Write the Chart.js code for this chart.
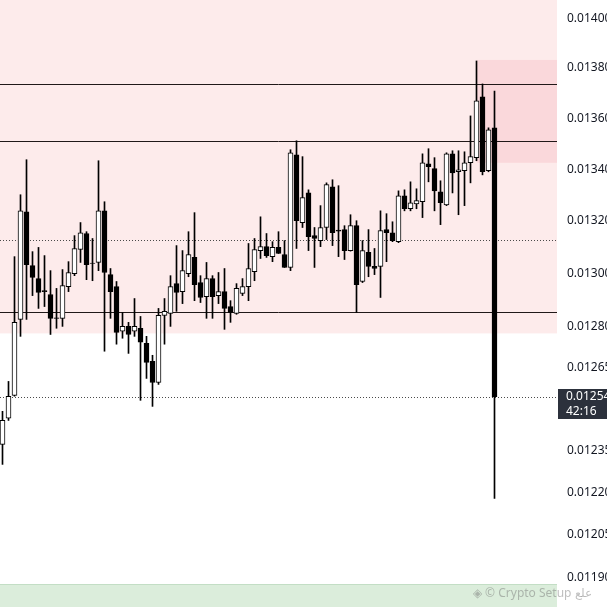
<!DOCTYPE html>
<html>
<head>
<meta charset="utf-8">
<script src="https://cdn.jsdelivr.net/npm/chart.js@4.4.1/dist/chart.umd.min.js"></script>
<style>
  html, body { margin: 0; padding: 0; background: #fff; }
  #wrap { width: 607px; height: 607px; }
</style>
</head>
<body>
<div id="wrap"><canvas id="chart"></canvas></div>
<script>
// candles, oldest first
const opens = [
  0.012371, 0.012465, 0.012548, 0.012828, 0.013235, 0.013030, 0.012981, 0.012936, 0.012921, 0.012834,
  0.012832, 0.012951, 0.013000, 0.013091, 0.013152, 0.013040, 0.013042, 0.013239, 0.012996, 0.012951,
  0.012784, 0.012802, 0.012784, 0.012795, 0.012739, 0.012673, 0.012595, 0.012843, 0.012850, 0.012962,
  0.012932, 0.013000, 0.013061, 0.012966, 0.012913, 0.012981, 0.012917, 0.012932, 0.012876, 0.012850,
  0.012925, 0.012951, 0.013007, 0.013087, 0.013102, 0.013064, 0.013099, 0.013072, 0.013023, 0.013456,
  0.013194, 0.013308, 0.013144, 0.013125, 0.013175, 0.013332, 0.013165, 0.013167, 0.013087, 0.013182,
  0.012970, 0.013080, 0.013027, 0.013027, 0.013167, 0.013155, 0.013121, 0.013297, 0.013247, 0.013266,
  0.013274, 0.013421, 0.013402, 0.013312, 0.013262, 0.013460, 0.013390, 0.013394, 0.013425, 0.013445,
  0.013685, 0.013394, 0.013562
];
const highs = [
  0.012490, 0.012599, 0.013064, 0.013301, 0.013437, 0.013083, 0.013099, 0.013068, 0.013011, 0.012944,
  0.013015, 0.013045, 0.013144, 0.013194, 0.013159, 0.013133, 0.013433, 0.013274, 0.013019, 0.012970,
  0.012854, 0.012817, 0.012906, 0.012839, 0.012765, 0.012695, 0.012869, 0.012906, 0.012992, 0.013106,
  0.013087, 0.013159, 0.013232, 0.012992, 0.013042, 0.012992, 0.013004, 0.013019, 0.012898, 0.012962,
  0.012981, 0.013114, 0.013133, 0.013216, 0.013152, 0.013121, 0.013159, 0.013125, 0.013476, 0.013511,
  0.013449, 0.013320, 0.013175, 0.013259, 0.013347, 0.013359, 0.013336, 0.013182, 0.013224, 0.013201,
  0.013125, 0.013167, 0.013095, 0.013239, 0.013228, 0.013197, 0.013316, 0.013320, 0.013351, 0.013324,
  0.013460, 0.013480, 0.013445, 0.013355, 0.013464, 0.013472, 0.013472, 0.013468, 0.013609, 0.013828,
  0.013736, 0.013562, 0.013708
];
const lows = [
  0.012299, 0.012457, 0.012545, 0.012765, 0.012828, 0.012917, 0.012869, 0.012876, 0.012772, 0.012795,
  0.012802, 0.012932, 0.012992, 0.013042, 0.012977, 0.012973, 0.013011, 0.012710, 0.012832, 0.012736,
  0.012758, 0.012702, 0.012765, 0.012530, 0.012610, 0.012508, 0.012588, 0.012736, 0.012802, 0.012858,
  0.012887, 0.012988, 0.012898, 0.012891, 0.012832, 0.012832, 0.012887, 0.012791, 0.012817, 0.012847,
  0.012917, 0.012898, 0.012973, 0.013057, 0.013061, 0.013045, 0.013076, 0.013023, 0.013011, 0.013095,
  0.013175, 0.013087, 0.013023, 0.013102, 0.013129, 0.013106, 0.013064, 0.013053, 0.013085, 0.012854,
  0.012966, 0.012988, 0.012996, 0.012910, 0.013045, 0.013121, 0.013117, 0.013239, 0.013239, 0.013247,
  0.013213, 0.013351, 0.013239, 0.013186, 0.013259, 0.013308, 0.013224, 0.013259, 0.013347, 0.013433,
  0.013378, 0.013390, 0.012178
];
const closes = [
  0.012457, 0.012545, 0.012817, 0.013239, 0.013034, 0.012985, 0.012929, 0.012932, 0.012832, 0.012832,
  0.012955, 0.013004, 0.013095, 0.013155, 0.013034, 0.013038, 0.013239, 0.013004, 0.012932, 0.012780,
  0.012802, 0.012772, 0.012802, 0.012743, 0.012669, 0.012595, 0.012843, 0.012858, 0.012951, 0.012929,
  0.013011, 0.013072, 0.012958, 0.012910, 0.012981, 0.012913, 0.012932, 0.012869, 0.012854, 0.012944,
  0.012951, 0.013019, 0.013091, 0.013102, 0.013068, 0.013099, 0.013076, 0.013023, 0.013464, 0.013201,
  0.013290, 0.013140, 0.013133, 0.013175, 0.013340, 0.013155, 0.013161, 0.013087, 0.013182, 0.012958,
  0.013087, 0.013027, 0.013019, 0.013163, 0.013155, 0.013125, 0.013297, 0.013247, 0.013270, 0.013278,
  0.013425, 0.013410, 0.013316, 0.013270, 0.013460, 0.013386, 0.013398, 0.013425, 0.013449, 0.013669,
  0.013390, 0.013554, 0.012543
];

// price axis
const tickValues = [0.0140, 0.0138, 0.0136, 0.0134, 0.0132, 0.0130, 0.0128, 0.01265, 0.0125, 0.01235, 0.0122, 0.01205, 0.0119];
const priceMin = 0.011803;
const priceMax = 0.014075;

// drawn levels and zones
const solidLevels = [0.013736, 0.013511, 0.012854];
const dottedLevels = [0.013129];
const lastPrice = 0.012543;
const countdown = '42:16';
const pinkZoneLow = 0.012776;
const innerZone = { fromIndex: 79.1, high: 0.013832, low: 0.013425 };
const greenZoneHigh = 0.011879;
const watermark = '\u25C8 \u00A9 Crypto Setup \u0639\u0644\u0639';

const idx = opens.map((_, i) => i);
const wickData = idx.map(i => ({ x: i, y: [lows[i], highs[i]] }));
const bodyData = idx.map(i => ({ x: i, y: [opens[i], closes[i]] }));
const bodyColors = idx.map(i => closes[i] >= opens[i] ? '#ffffff' : '#000000');

const overlay = {
  id: 'overlay',
  beforeDatasetsDraw(chart) {
    const { ctx, chartArea: a, scales: { x, y } } = chart;
    const w = a.right - a.left;
    ctx.save();
    // resistance zone
    const pz = y.getPixelForValue(pinkZoneLow);
    ctx.fillStyle = '#fdebeb';
    ctx.fillRect(a.left, a.top, w, pz - a.top);
    const bx = x.getPixelForValue(innerZone.fromIndex);
    const bt = y.getPixelForValue(innerZone.high);
    const bb = y.getPixelForValue(innerZone.low);
    ctx.fillStyle = '#fad8db';
    ctx.fillRect(bx, bt, a.right - bx, bb - bt);
    // green strip at bottom
    const gt = Math.round(y.getPixelForValue(greenZoneHigh));
    ctx.fillStyle = '#dbeddb';
    ctx.fillRect(a.left, gt, w, a.bottom - gt);
    ctx.fillStyle = '#c3dec5';
    ctx.fillRect(a.left, gt, w, 1);
    // horizontal levels
    ctx.lineWidth = 1;
    ctx.strokeStyle = '#201818';
    solidLevels.forEach(v => {
      const py = Math.round(y.getPixelForValue(v)) + 0.5;
      ctx.beginPath(); ctx.moveTo(a.left, py); ctx.lineTo(a.right, py); ctx.stroke();
    });
    ctx.setLineDash([1, 2]);
    ctx.strokeStyle = '#4a4a4a';
    dottedLevels.concat([lastPrice]).forEach(v => {
      const py = Math.round(y.getPixelForValue(v)) + 0.5;
      ctx.beginPath(); ctx.moveTo(a.left, py); ctx.lineTo(a.right, py); ctx.stroke();
    });
    ctx.restore();
  },
  afterDraw(chart) {
    const { ctx, chartArea: a, scales: { y } } = chart;
    ctx.save();
    const py = Math.round(y.getPixelForValue(lastPrice));
    ctx.fillStyle = '#2c313c';
    ctx.fillRect(a.right + 1, py - 8, chart.width - a.right, 30);
    ctx.fillStyle = '#ffffff';
    ctx.font = '12px "Noto Sans"';
    ctx.textBaseline = 'middle';
    ctx.textAlign = 'left';
    ctx.fillText(lastPrice.toFixed(6), a.right + 9, py);
    ctx.fillText(countdown, a.right + 9, py + 15);
    // watermark
    ctx.font = '12px "Noto Sans"';
    ctx.fillStyle = 'rgba(110,110,110,0.45)';
    ctx.fillText(watermark, 473, 594);
    ctx.restore();
  }
};

new Chart(document.getElementById('chart'), {
  type: 'bar',
  data: {
    datasets: [
      {
        data: bodyData,
        backgroundColor: bodyColors,
        borderColor: '#000000',
        borderWidth: 1,
        borderSkipped: false,
        barThickness: 5,
        grouped: false,
        order: 0
      },
      {
        data: wickData,
        backgroundColor: '#000000',
        borderWidth: 0,
        barThickness: 1,
        grouped: false,
        order: 1
      }
    ]
  },
  options: {
    responsive: true,
    maintainAspectRatio: false,
    animation: false,
    layout: { padding: 0 },
    plugins: {
      legend: { display: false },
      tooltip: { enabled: false }
    },
    scales: {
      x: {
        type: 'linear',
        display: false,
        offset: false,
        min: -2.5 / 6,
        max: -2.5 / 6 + 557 / 6
      },
      y: {
        type: 'logarithmic',
        position: 'right',
        min: priceMin,
        max: priceMax,
        afterFit(scale) {
          scale.width = 50;
          scale.paddingTop = 0;
          scale.paddingBottom = 0;
        },
        afterBuildTicks(scale) { scale.ticks = tickValues.map(v => ({ value: v })); },
        grid: { display: false, drawTicks: false },
        border: { display: false },
        ticks: {
          padding: 10,
          color: '#131722',
          font: { family: '"Noto Sans"', size: 12 },
          callback: v => Number(v).toFixed(6)
        }
      }
    }
  },
  plugins: [overlay]
});
</script>
</body>
</html>
